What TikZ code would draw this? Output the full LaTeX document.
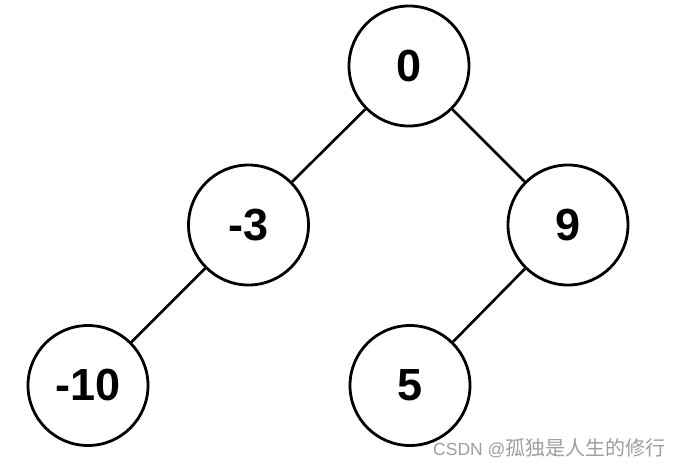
\documentclass[tikz,border=0pt]{standalone}
\usepackage{fontspec}
\setmainfont{Liberation Sans}
\newfontfamily\cjkwm{Noto Sans CJK SC}
\begin{document}
\begin{tikzpicture}[x=1pt,y=-1pt,
  treenode/.style={circle,draw=black,line width=2.8pt,minimum size=120pt,inner sep=0pt,
    font=\fontsize{45}{48}\selectfont\bfseries},
  edge/.style={line width=2.6pt,draw=black}]
\useasboundingbox[fill=white] (0,0) rectangle (680,468);
\node[treenode] (n0) at (409,66) {0};
\node[treenode] (nm3) at (248.5,225) {-3};
\node[treenode] (n9) at (568,225) {9};
\node[treenode] (nm10) at (88,385.5) {-10};
\node[treenode] (n5) at (410,385.5) {5};
\draw[edge] (n0) -- (nm3);
\draw[edge] (n0) -- (n9);
\draw[edge] (nm3) -- (nm10);
\draw[edge] (n9) -- (n5);
\node[anchor=base west,inner sep=0pt,text=black!38] (wm) at (433,455)
  {\fontsize{17.5}{20}\selectfont CSDN @\cjkwm\fontsize{20}{24}\selectfont 孤独是人生的修行};
\end{tikzpicture}
\end{document}
